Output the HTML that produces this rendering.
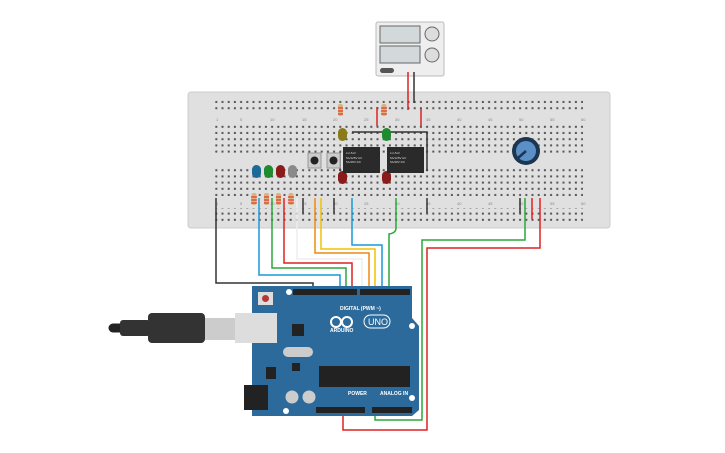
<!DOCTYPE html>
<html><head><style>html,body{margin:0;padding:0;background:#fff}svg{display:block}</style></head>
<body>
<svg width="725" height="453" viewBox="0 0 725 453" xmlns="http://www.w3.org/2000/svg" font-family="Liberation Sans, sans-serif">
<defs>
<pattern id="dots" x="213.5" y="0" width="6.2" height="6.2" patternUnits="userSpaceOnUse"><rect x="1.8" y="1.8" width="2" height="2" fill="#555"/></pattern>
</defs>
<!-- power supply -->
<rect x="376" y="22" width="68" height="54" rx="2" fill="#eee" stroke="#bbb"/>
<rect x="380" y="26" width="40" height="17" fill="#d3d9db" stroke="#666"/>
<rect x="380" y="46" width="40" height="17" fill="#d3d9db" stroke="#666"/>
<circle cx="432" cy="34" r="7" fill="#ddd" stroke="#666"/>
<circle cx="432" cy="55" r="7" fill="#ddd" stroke="#666"/>
<rect x="380" y="68" width="14" height="5" rx="2.5" fill="#555"/>
<!-- breadboard -->
<rect x="188" y="92" width="422" height="136" rx="3" fill="#e0e0e0" stroke="#ccc"/>
<rect x="213" y="97" width="370" height="14" fill="url(#dots)"/>
<rect x="213" y="123" width="370" height="31" fill="url(#dots)"/>
<rect x="213" y="167" width="370" height="31" fill="url(#dots)"/>
<rect x="213" y="208" width="370" height="14" fill="url(#dots)"/>
<g font-size="4" fill="#888">
<text x="216" y="121">1</text><text x="240" y="121">5</text><text x="270" y="121">10</text><text x="302" y="121">15</text><text x="333" y="121">20</text><text x="364" y="121">25</text><text x="395" y="121">30</text><text x="426" y="121">35</text><text x="457" y="121">40</text><text x="488" y="121">45</text><text x="519" y="121">50</text><text x="550" y="121">55</text><text x="581" y="121">60</text>
<text x="216" y="205">1</text><text x="240" y="205">5</text><text x="270" y="205">10</text><text x="302" y="205">15</text><text x="333" y="205">20</text><text x="364" y="205">25</text><text x="395" y="205">30</text><text x="426" y="205">35</text><text x="457" y="205">40</text><text x="488" y="205">45</text><text x="519" y="205">50</text><text x="550" y="205">55</text><text x="581" y="205">60</text>
</g>
<!-- breadboard wires -->
<g fill="none" stroke-width="1.5">
<path d="M408 72V110" stroke="#d22"/><path d="M414 72V103" stroke="#333"/>
<path d="M377 107V126" stroke="#d22"/><path d="M421 109V126" stroke="#d22"/>
<path d="M352 132H427V171" stroke="#333"/>
<path d="M340 152V171" stroke="#333"/>
<path d="M303 198V213" stroke="#333"/><path d="M334 198V213" stroke="#333"/><path d="M427 198V213" stroke="#333"/><path d="M520 198V213" stroke="#333"/>
<path d="M532 198V219" stroke="#d22"/>
</g>
<!-- LEDs bottom left -->
<g>
<rect x="252" y="165" width="9" height="13" rx="4.5" fill="#1d6a99"/>
<rect x="264" y="165" width="9" height="13" rx="4.5" fill="#1f8a2e"/>
<rect x="276" y="165" width="9" height="13" rx="4.5" fill="#8b1a1a"/>
<rect x="288" y="165" width="9" height="13" rx="4.5" fill="#8a8a8a"/>
<rect x="338" y="128" width="9" height="13" rx="4.5" fill="#8a7a18"/>
<rect x="382" y="128" width="9" height="13" rx="4.5" fill="#1f8a2e"/>
<rect x="338" y="171" width="9" height="13" rx="4.5" fill="#8b1a1a"/>
<rect x="382" y="171" width="9" height="13" rx="4.5" fill="#8b1a1a"/>
</g>
<!-- resistors -->
<g fill="#d9b47a">
<rect x="251.5" y="193" width="5" height="12" rx="2"/><rect x="264" y="193" width="5" height="12" rx="2"/><rect x="276" y="193" width="5" height="12" rx="2"/><rect x="288.5" y="193" width="5" height="12" rx="2"/>
<rect x="338" y="104" width="5" height="12" rx="2"/><rect x="381.5" y="104" width="5" height="12" rx="2"/>
</g>
<g stroke="#d22" stroke-width="1">
<path d="M251 197h6M251 200h6M251 203h6M264 197h5M264 200h5M264 203h5M276 197h5M276 200h5M276 203h5M288 197h6M288 200h6M288 203h6M338 108h5M338 111h5M338 114h5M381 108h6M381 111h6M381 114h6"/>
</g>
<!-- buttons -->
<rect x="308" y="153" width="13" height="15" fill="#ccc" stroke="#999"/><circle cx="314.5" cy="160.5" r="4" fill="#222"/>
<rect x="327" y="153" width="13" height="15" fill="#ccc" stroke="#999"/><circle cx="333.5" cy="160.5" r="4" fill="#222"/>
<!-- relays -->
<rect x="343" y="147" width="37" height="26" fill="#2a2a2a"/><rect x="387" y="147" width="37" height="26" fill="#2a2a2a"/>
<g font-size="3" fill="#ddd"><text x="346" y="154">LU-5-R</text><text x="346" y="159">5A/125V AC</text><text x="346" y="163">5A/28V DC</text><text x="390" y="154">LU-5-R</text><text x="390" y="159">5A/125V AC</text><text x="390" y="163">5A/28V DC</text></g>
<!-- pot -->
<circle cx="526" cy="151" r="14" fill="#1c3550"/><circle cx="526" cy="151" r="10" fill="#5b8fc7"/><path d="M526 151L518 158" stroke="#1c3550" stroke-width="2.5"/>
<!-- Arduino wires -->
<g fill="none" stroke-width="1.5">
<path d="M216 198V283H313V292" stroke="#333"/>
<path d="M259 198V275H340V292" stroke="#1a9ad6"/>
<path d="M272 198V268H346V292" stroke="#2aa838"/>
<path d="M284 198V263H352V292" stroke="#d22"/>
<path d="M297 198V259H362V292" stroke="#eee"/>
<path d="M315 198V253H369V292" stroke="#ef8a10"/>
<path d="M321 198V249H375V292" stroke="#f2c200"/>
<path d="M352 198V245H382V292" stroke="#1a9ad6"/>
<path d="M396 198V228Q396 233 389 234V292" stroke="#2aa838"/>
<path d="M525 198V240H422V420H375V410" stroke="#2aa838"/>
<path d="M540 198V248H427V430H343V410" stroke="#d22"/>
</g>
<!-- USB cable -->
<path d="M113 328H122" stroke="#222" stroke-width="9" stroke-linecap="round"/>
<rect x="120" y="320" width="30" height="16" rx="3" fill="#333"/>
<rect x="148" y="313" width="57" height="30" rx="4" fill="#333"/>
<rect x="205" y="318" width="32" height="22" fill="#ccc"/>
<!-- Arduino board -->
<path d="M252 286H412V318L419 326V410L412 416H252Z" fill="#2b6a9b"/>
<rect x="235" y="313" width="42" height="30" fill="#ddd"/>
<rect x="244" y="385" width="24" height="25" fill="#222"/>
<rect x="293" y="289" width="64" height="6" fill="#222"/><rect x="360" y="289" width="50" height="6" fill="#222"/>
<rect x="316" y="407" width="49" height="6" fill="#222"/><rect x="372" y="407" width="40" height="6" fill="#222"/>
<rect x="319" y="366" width="91" height="21" fill="#222"/>
<rect x="258" y="292" width="15" height="13" fill="#ddd"/><circle cx="265.5" cy="298.5" r="3.5" fill="#b33"/>
<rect x="292" y="324" width="12" height="12" fill="#222"/>
<rect x="283" y="347" width="30" height="10" rx="5" fill="#ccc"/>
<rect x="292" y="363" width="8" height="8" fill="#222"/>
<rect x="266" y="367" width="10" height="12" fill="#222"/>
<circle cx="292" cy="397" r="6.5" fill="#ccc"/><circle cx="309" cy="397" r="6.5" fill="#ccc"/>
<circle cx="289" cy="292" r="3" fill="#fff"/><circle cx="412" cy="326" r="3" fill="#fff"/><circle cx="412" cy="398" r="3" fill="#fff"/><circle cx="286" cy="411" r="3" fill="#fff"/>
<g font-size="5" fill="#fff" font-weight="bold"><text x="340" y="310">DIGITAL (PWM ~)</text><text x="330" y="332">ARDUINO</text><text x="348" y="395">POWER</text><text x="380" y="395">ANALOG IN</text></g>
<rect x="364" y="315" width="26" height="13" rx="6.5" fill="none" stroke="#fff"/><text x="368" y="325" font-size="9" fill="#fff">UNO</text>
<circle cx="336" cy="322" r="5" fill="none" stroke="#fff" stroke-width="2"/><circle cx="347" cy="322" r="5" fill="none" stroke="#fff" stroke-width="2"/>
</svg>
</body></html>
